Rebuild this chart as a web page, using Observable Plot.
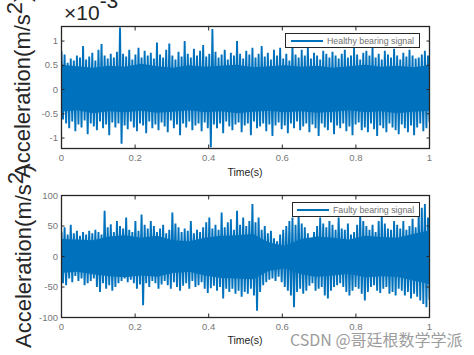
<!DOCTYPE html>
<html>
<head>
<meta charset="utf-8">
<script src="https://cdn.jsdelivr.net/npm/d3@7"></script>
<script src="https://cdn.jsdelivr.net/npm/@observablehq/plot@0.6"></script>
<style>
  html, body { margin: 0; padding: 0; background: #fff; }
  #wrap { position: relative; width: 474px; height: 355px; overflow: hidden; background: #fff; font-family: "Liberation Sans", Arial, sans-serif; }
  #top, #bottom { position: absolute; left: 0; }
  #top { top: 0; }
  #bottom { top: 175px; }
  #overlay { position: absolute; left: 0; top: 0; pointer-events: none; }
  .legend { position: absolute; background: #fff; border: 1.2px solid #262626; box-sizing: border-box; }
  .legend .ln { position: absolute; height: 2px; background: #0072BD; }
  .legend .tx { position: absolute; color: #707070; font-size: 8.8px; white-space: nowrap; line-height: 1; }
</style>
</head>
<body>
<div id="wrap">
  <div id="top"></div>
  <div id="bottom"></div>
  <svg id="overlay" width="474" height="355"></svg>
  <div class="legend" style="left:285px;top:33px;width:135px;height:15px;">
    <div class="ln" style="left:5px;width:32px;top:5.5px;"></div>
    <div class="tx" style="left:41px;top:2.5px;">Healthy bearing signal</div>
  </div>
  <div class="legend" style="left:292px;top:202px;width:128px;height:15px;">
    <div class="ln" style="left:4px;width:32px;top:5.5px;"></div>
    <div class="tx" style="left:40px;top:2.5px;">Faulty bearing signal</div>
  </div>
</div>
<script>
// ---- data ----
const xTicks = [0, 0.2, 0.4, 0.6, 0.8, 1];
const healthyTicks = [-1, -0.5, 0, 0.5, 1];   // ×10^-3 m/s^2
const faultyTicks = [-100, -50, 0, 50, 100];  // m/s^2
const yLabel = "Acceleration(m/s";
const xLabel = "Time(s)";

// healthy bearing signal (×10^-3): local maxima / minima along time
const healthyPeaks = [
  0.78, 0.72, 0.55, 0.64, 0.60, 0.70, 0.66, 0.90, 0.62, 0.68,
  0.76, 0.60, 0.82, 0.94, 0.70, 0.64, 0.74, 0.66, 0.78, 1.28,
  0.74, 0.68, 0.82, 0.62, 0.72, 0.86, 0.66, 0.80, 0.70, 0.76,
  0.64, 0.97, 0.72, 0.66, 0.82, 0.95, 0.70, 0.62, 0.78, 0.68,
  1.00, 0.74, 0.66, 0.84, 0.70, 0.80, 0.92, 0.68, 0.74, 1.25,
  0.78, 0.66, 0.72, 0.82, 0.62, 0.76, 0.70, 1.00, 0.74, 0.64,
  0.80, 0.72, 0.86, 0.66, 0.74, 0.90, 0.68, 0.76, 0.62, 0.82,
  0.70, 0.86, 0.64, 0.74, 0.60, 0.92, 0.72, 0.66, 0.82, 0.70,
  0.88, 0.64, 0.76, 0.70, 0.62, 0.80, 0.74, 0.66, 0.78, 0.70,
  0.64, 0.74, 0.82, 0.66, 0.70, 0.86, 0.72, 0.62, 0.76, 0.80,
  0.70, 0.88, 0.66, 0.74, 0.62, 0.80, 0.72, 0.66, 0.84, 0.70,
  0.62, 0.76, 0.68, 0.82, 0.70, 0.64, 0.66, 0.72, 0.80, 0.70
];
const healthyTroughs = [
  -0.62, -0.70, -0.80, -0.66, -0.86, -0.72, -0.78, -0.64, -0.92, -0.70,
  -0.76, -0.84, -0.66, -0.80, -0.72, -0.94, -0.68, -0.78, -0.70, -1.12,
  -0.74, -0.82, -0.66, -0.78, -0.86, -0.70, -0.74, -0.90, -0.66, -0.80,
  -0.72, -0.84, -0.68, -0.76, -0.88, -0.64, -0.80, -0.72, -0.94, -0.70,
  -0.78, -0.66, -0.84, -0.74, -0.70, -0.86, -0.68, -0.80, -1.19, -0.72,
  -0.80, -0.70, -0.90, -0.66, -0.76, -0.84, -0.72, -0.68, -0.88, -0.74,
  -0.70, -0.94, -0.66, -0.80, -0.76, -0.70, -0.86, -0.72, -0.96, -0.74,
  -0.68, -0.82, -0.74, -0.90, -0.70, -0.80, -0.66, -0.84, -0.76, -0.70,
  -0.88, -0.72, -0.80, -0.96, -0.70, -0.78, -0.84, -0.68, -0.92, -0.74,
  -0.80, -0.70, -0.86, -0.76, -0.94, -0.72, -0.68, -0.84, -0.78, -0.88,
  -0.70, -0.82, -0.96, -0.74, -0.80, -0.88, -0.70, -0.78, -0.84, -0.92,
  -0.72, -0.80, -0.88, -0.74, -0.94, -0.78, -0.70, -0.86, -0.80, -0.66
];
// edges of the dense (solid) part of the healthy trace
const healthyCoreHi = [0.50, 0.47, 0.44, 0.48, 0.46, 0.52, 0.47, 0.44, 0.49, 0.46, 0.48, 0.50,
                       0.45, 0.47, 0.49, 0.46, 0.48, 0.44, 0.47, 0.50, 0.46, 0.48, 0.45, 0.49];
const healthyCoreLo = [-0.47, -0.44, -0.50, -0.46, -0.48, -0.45, -0.49, -0.47, -0.44, -0.48, -0.46, -0.50,
                       -0.47, -0.45, -0.48, -0.46, -0.49, -0.47, -0.44, -0.48, -0.46, -0.50, -0.47, -0.45];

// faulty bearing signal (m/s^2): local maxima / minima along time
const faultyPeaks = [
  40, 48, 36, 52, 38, 42, 34, 40, 36, 42,
  38, 44, 40, 36, 75, 48, 53, 40, 58, 50,
  46, 64, 44, 40, 58, 42, 69, 52, 46, 58,
  50, 40, 46, 52, 38, 44, 72, 54, 48, 40,
  46, 42, 58, 38, 44, 40, 48, 56, 64, 46,
  52, 44, 72, 48, 56, 61, 44, 75, 52, 64,
  50, 58, 86, 56, 64, 44, 50, 38, 42, 30,
  25, 36, 44, 50, 58, 64, 52, 69, 54, 48,
  38, 30, 40, 50, 64, 54, 48, 58, 52, 44,
  64, 46, 44, 54, 36, 40, 52, 69, 58, 50,
  44, 52, 40, 58, 66, 54, 46, 44, 58, 52,
  46, 58, 44, 50, 62, 48, 72, 80, 86, 64
];
const faultyTroughs = [
  -44, -47, -36, -42, -32, -40, -36, -47, -44, -40,
  -36, -50, -58, -44, -53, -47, -56, -50, -44, -40,
  -36, -42, -38, -44, -53, -46, -80, -44, -50, -40,
  -44, -53, -46, -40, -47, -53, -42, -50, -56, -48,
  -44, -53, -40, -50, -47, -42, -53, -60, -52, -48,
  -56, -50, -69, -53, -58, -53, -61, -56, -66, -58,
  -61, -53, -64, -89, -58, -47, -42, -38, -36, -40,
  -33, -42, -50, -56, -64, -83, -58, -53, -61, -56,
  -48, -44, -56, -53, -50, -64, -69, -56, -50, -47,
  -44, -50, -58, -64, -56, -50, -53, -61, -72, -58,
  -50, -47, -56, -60, -53, -50, -61, -58, -64, -53,
  -56, -64, -58, -69, -61, -66, -72, -78, -83, -70
];
// edges of the dense (solid) part of the faulty trace
const faultyCoreHi = [28, 27, 26, 32, 34, 30, 33, 26, 24, 30, 33, 34,
                      36, 22, 17, 28, 32, 30, 27, 33, 31, 30, 36, 42];
const faultyCoreLo = [-28, -26, -30, -33, -35, -32, -34, -28, -26, -32, -36, -37,
                      -38, -24, -20, -30, -34, -32, -29, -35, -33, -34, -40, -46];

// ---- build tables (uniform time base 0..1 s) ----
function trace(peaks, troughs) {
  const v = peaks.flatMap((p, i) => [p, troughs[i]]);
  return v.map((y, i) => ({t: i / (v.length - 1), v: y}));
}
function core(hi, lo) {
  return hi.map((h, i) => ({t: i / (hi.length - 1), hi: h, lo: lo[i]}));
}
const healthy = trace(healthyPeaks, healthyTroughs);
const faulty = trace(faultyPeaks, faultyTroughs);
const healthyCore = core(healthyCoreHi, healthyCoreLo);
const faultyCore = core(faultyCoreHi, faultyCoreLo);

const BLUE = "#0072BD";
const AX = "#262626";
const LBL = "#777777";
const fmt = d => String(d);

function panel(data, band, yDomain, yTicks, opts) {
  return Plot.plot({
    width: 474,
    height: opts.height,
    marginLeft: 61,
    marginRight: 45,
    marginTop: opts.marginTop,
    marginBottom: opts.marginBottom,
    style: {background: "transparent", fontFamily: "'Liberation Sans', Arial, sans-serif"},
    x: {domain: [0, 1]},
    y: {domain: yDomain},
    marks: [
      Plot.areaY(band, {x: "t", y1: "lo", y2: "hi", fill: BLUE, clip: true}),
      Plot.line(data, {x: "t", y: "v", stroke: BLUE, strokeWidth: 1.9, strokeLinejoin: "miter", clip: true}),
      Plot.axisX(xTicks, {anchor: "bottom", tickSize: 0, tickPadding: 6, tickFormat: fmt, fill: LBL, fontSize: 9.5, label: null}),
      Plot.axisY(yTicks, {anchor: "left", tickSize: 0, tickPadding: 3.5, tickFormat: fmt, fill: LBL, fontSize: 9.5, label: null}),
      Plot.axisX(xTicks, {anchor: "bottom", tickSize: -3.5, fill: "none", stroke: AX, label: null}),
      Plot.axisX(xTicks, {anchor: "top", tickSize: -3.5, fill: "none", stroke: AX, label: null}),
      Plot.axisY(yTicks, {anchor: "left", tickSize: -3.5, fill: "none", stroke: AX, label: null}),
      Plot.axisY(yTicks, {anchor: "right", tickSize: -3.5, fill: "none", stroke: AX, label: null}),
      Plot.frame({stroke: AX, strokeWidth: 1.3})
    ]
  });
}

document.getElementById("top").append(
  panel(healthy, healthyCore, [-1.216, 1.3], healthyTicks, {height: 175, marginTop: 26, marginBottom: 27})
);
document.getElementById("bottom").append(
  panel(faulty, faultyCore, [-100, 100], faultyTicks, {height: 180, marginTop: 20, marginBottom: 38})
);

// ---- text overlay: axis titles, exponent, watermark ----
const ov = d3.select("#overlay").style("font-family", "'Liberation Sans', Arial, sans-serif");
function ylab(x, y) {
  const t = ov.append("text").attr("transform", `translate(${x},${y}) rotate(-90)`)
    .attr("font-size", 22).attr("fill", AX);
  t.append("tspan").text(yLabel);
  t.append("tspan").attr("dy", -8).text("2");
  t.append("tspan").attr("dy", 8).text(")");
}
ylab(29.5, 178);
ylab(30.5, 348);

const ex = ov.append("text").attr("x", 64).attr("y", 19.5).attr("font-size", 21).attr("fill", AX);
ex.append("tspan").text("×10");
ex.append("tspan").attr("dy", -11.5).text("-3");

ov.append("text").attr("x", 245).attr("y", 175.5).attr("text-anchor", "middle")
  .attr("font-size", 10.5).attr("fill", AX).text(xLabel);
ov.append("text").attr("x", 245).attr("y", 344).attr("text-anchor", "middle")
  .attr("font-size", 10.5).attr("fill", AX).text(xLabel);

ov.append("text").attr("x", 290).attr("y", 346).attr("font-size", 16)
  .attr("font-family", "'Noto Sans CJK SC', sans-serif").attr("fill", "#9c9c9c")
  .text("CSDN @哥廷根数学学派");
</script>
</body>
</html>
